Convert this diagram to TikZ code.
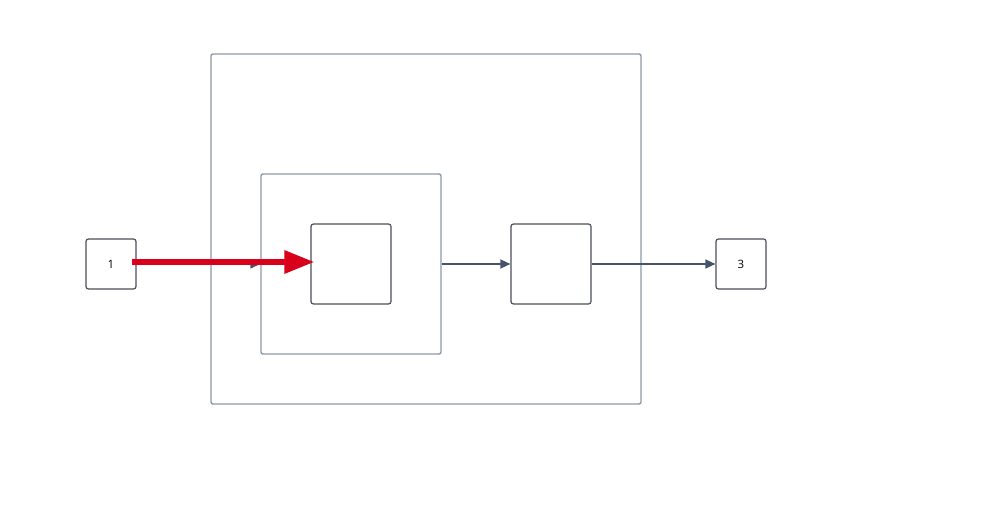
\documentclass[tikz,border=0pt]{standalone}
\usepackage{fontspec}
\setmainfont{Open Sans}
\usetikzlibrary{arrows.meta}
\definecolor{cont}{HTML}{8C98A8}
\definecolor{nd}{HTML}{4A4E58}
\definecolor{ar}{HTML}{44546A}
\definecolor{hl}{HTML}{D9001B}
\begin{document}
\begin{tikzpicture}[x=1pt,y=-1pt,
  contbox/.style={draw=cont,line width=1.4pt,rounded corners=2pt,inner sep=0pt},
  nodebox/.style={draw=nd,line width=1.2pt,rounded corners=2.5pt,inner sep=0pt,font=\fontsize{11.5}{13}\selectfont},
  conn/.style={draw=ar,line width=1.4pt,-{Triangle[length=10pt,width=9pt]}}]
\useasboundingbox (0,0) rectangle (1008,510);
\node[contbox,minimum width=430pt,minimum height=350pt] (outer) at (426,229) {};
\node[contbox,minimum width=180pt,minimum height=180pt] (inner) at (351,264) {};
\node[nodebox,minimum width=80pt,minimum height=80pt] (a) at (351,264) {};
\node[nodebox,minimum width=80pt,minimum height=80pt] (b) at (551,264) {};
\node[nodebox,minimum width=50pt,minimum height=50pt] (n1) at (111,264) {1};
\node[nodebox,minimum width=50pt,minimum height=50pt] (n3) at (741,264) {3};
\draw[conn] (n1) -- (inner);
\draw[conn] (inner) -- (b);
\draw[conn] (b) -- (n3);
\draw[draw=hl,line width=6pt,-{Triangle[length=30pt,width=22pt]}] ([yshift=2pt,xshift=-5pt]n1.east) -- ([yshift=2pt,xshift=4pt]a.west);
\end{tikzpicture}
\end{document}
